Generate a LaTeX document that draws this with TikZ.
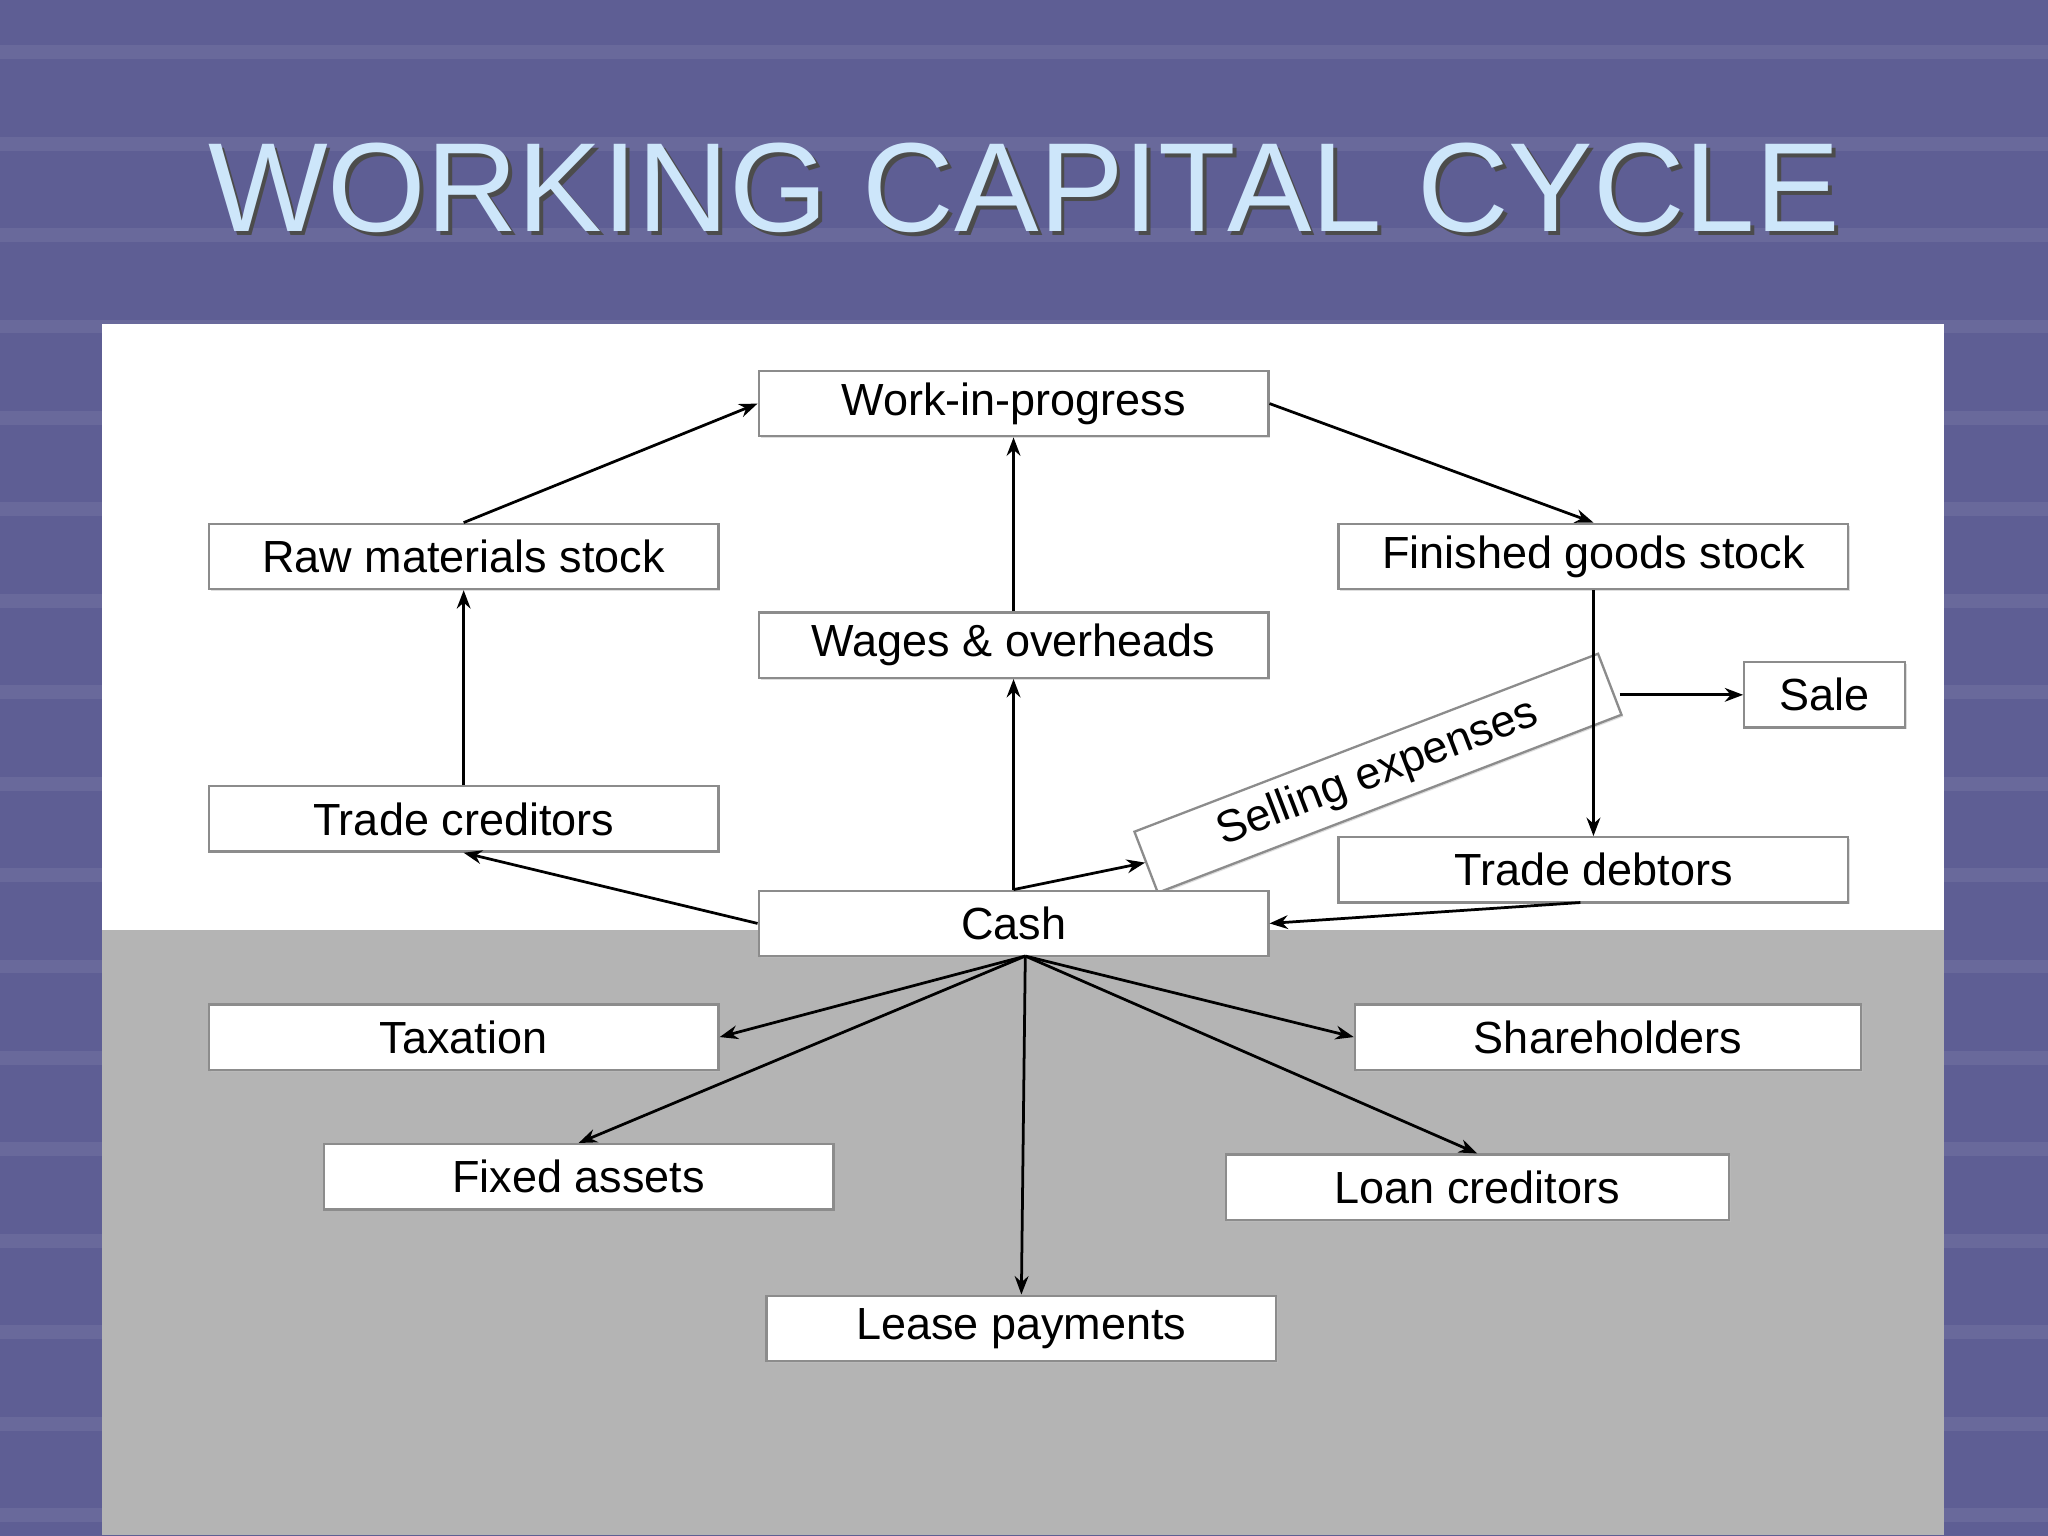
\documentclass[tikz,border=0pt]{standalone}
\usepackage{fontspec}
\setmainfont{Liberation Sans}
\usetikzlibrary{arrows.meta,shadows}
\definecolor{slidebg}{HTML}{5E5E94}
\definecolor{titleblue}{HTML}{CDE6FA}
\definecolor{panelgray}{HTML}{B4B4B4}
\tikzset{
    box/.style={draw=black!45, fill=white, line width=0.5pt, minimum width=3.9cm,
        minimum height=0.5cm, inner sep=0pt, font=\fontsize{9.8}{11}\selectfont,
        drop shadow={shadow xshift=0.4pt, shadow yshift=-0.4pt, fill=black!25}},
    flow/.style={-{Stealth[length=4pt,width=3pt]}, line width=0.6pt},
}
\begin{document}
\begin{tikzpicture}[x=0.01cm, y=-0.01cm]
    \useasboundingbox (0,0) rectangle (1568,1176);

    % slide background
    \fill[slidebg] (0,0) rectangle (1568,1176);
    \foreach \yy in {40,110,180,250,320,390,460,530,600,670,740,810,880,950,1020,1090,1160}
        \draw[white, opacity=0.07, line width=3pt] (0,\yy) -- (1568,\yy);
    \node[text=black!70, font=\fontsize{27.6}{30}\selectfont] at (787,147) {WORKING CAPITAL CYCLE};
    \node[text=titleblue, font=\fontsize{27.6}{30}\selectfont] (title) at (784,144) {WORKING CAPITAL CYCLE};

    % panel
    \fill[white] (78,248) rectangle (1488,712);
    \fill[panelgray] (78,712) rectangle (1488,1175);

    % boxes
    \node[box] (wip) at (776,309) {Work-in-progress};
    \node[box] (raw) at (355,426) {Raw materials stock};
    \node[box] (finished) at (1220,426) {Finished goods stock};
    \node[box] (wages) at (776,494) {Wages \& overheads};
    \node[box, minimum width=1.23cm] (sale) at (1397,532) {Sale};
    \node[box] (creditors) at (355,627) {Trade creditors};
    \node[box, rotate=21, minimum width=3.8cm] (selling) at (1055,592) {Selling expenses};
    \node[box] (debtors) at (1220,666) {Trade debtors};
    \node[box] (cash) at (776,707) {Cash};
    \node[box] (tax) at (355,794) {Taxation};
    \node[box, minimum width=3.87cm] (share) at (1231,794) {Shareholders};
    \node[box] (fixed) at (443,901) {Fixed assets};
    \node[box, minimum width=3.85cm] (loan) at (1131,909) {Loan creditors};
    \node[box] (lease) at (782,1017) {Lease payments};

    % upper cycle
    \draw[flow] (raw.north) -- (wip.west);
    \draw[flow] (wip.east) -- (finished.north);
    \draw[flow] (wages.north) -- (wip.south);
    \draw[flow] (creditors.north) -- (raw.south);
    \draw[flow] (finished.south) -- (debtors.north);
    \coordinate (sellend) at (1240,532);
    \draw[flow] (sellend) -- (sale.west);
    \draw[flow] (cash.west) -- (creditors.south);
    \draw[flow] (cash.north) -- (wages.south);
    \draw[flow] (cash.north) -- (selling.west);
    \coordinate (debtout) at (1210,691);
    \draw[flow] (debtout) -- (cash.east);

    % cash outflows
    \coordinate (out) at (785,732);
    \draw[flow] (out) -- (tax.east);
    \draw[flow] (out) -- (fixed.north);
    \draw[flow] (out) -- (lease.north);
    \draw[flow] (out) -- (share.west);
    \draw[flow] (out) -- (loan.north);
\end{tikzpicture}
\end{document}
